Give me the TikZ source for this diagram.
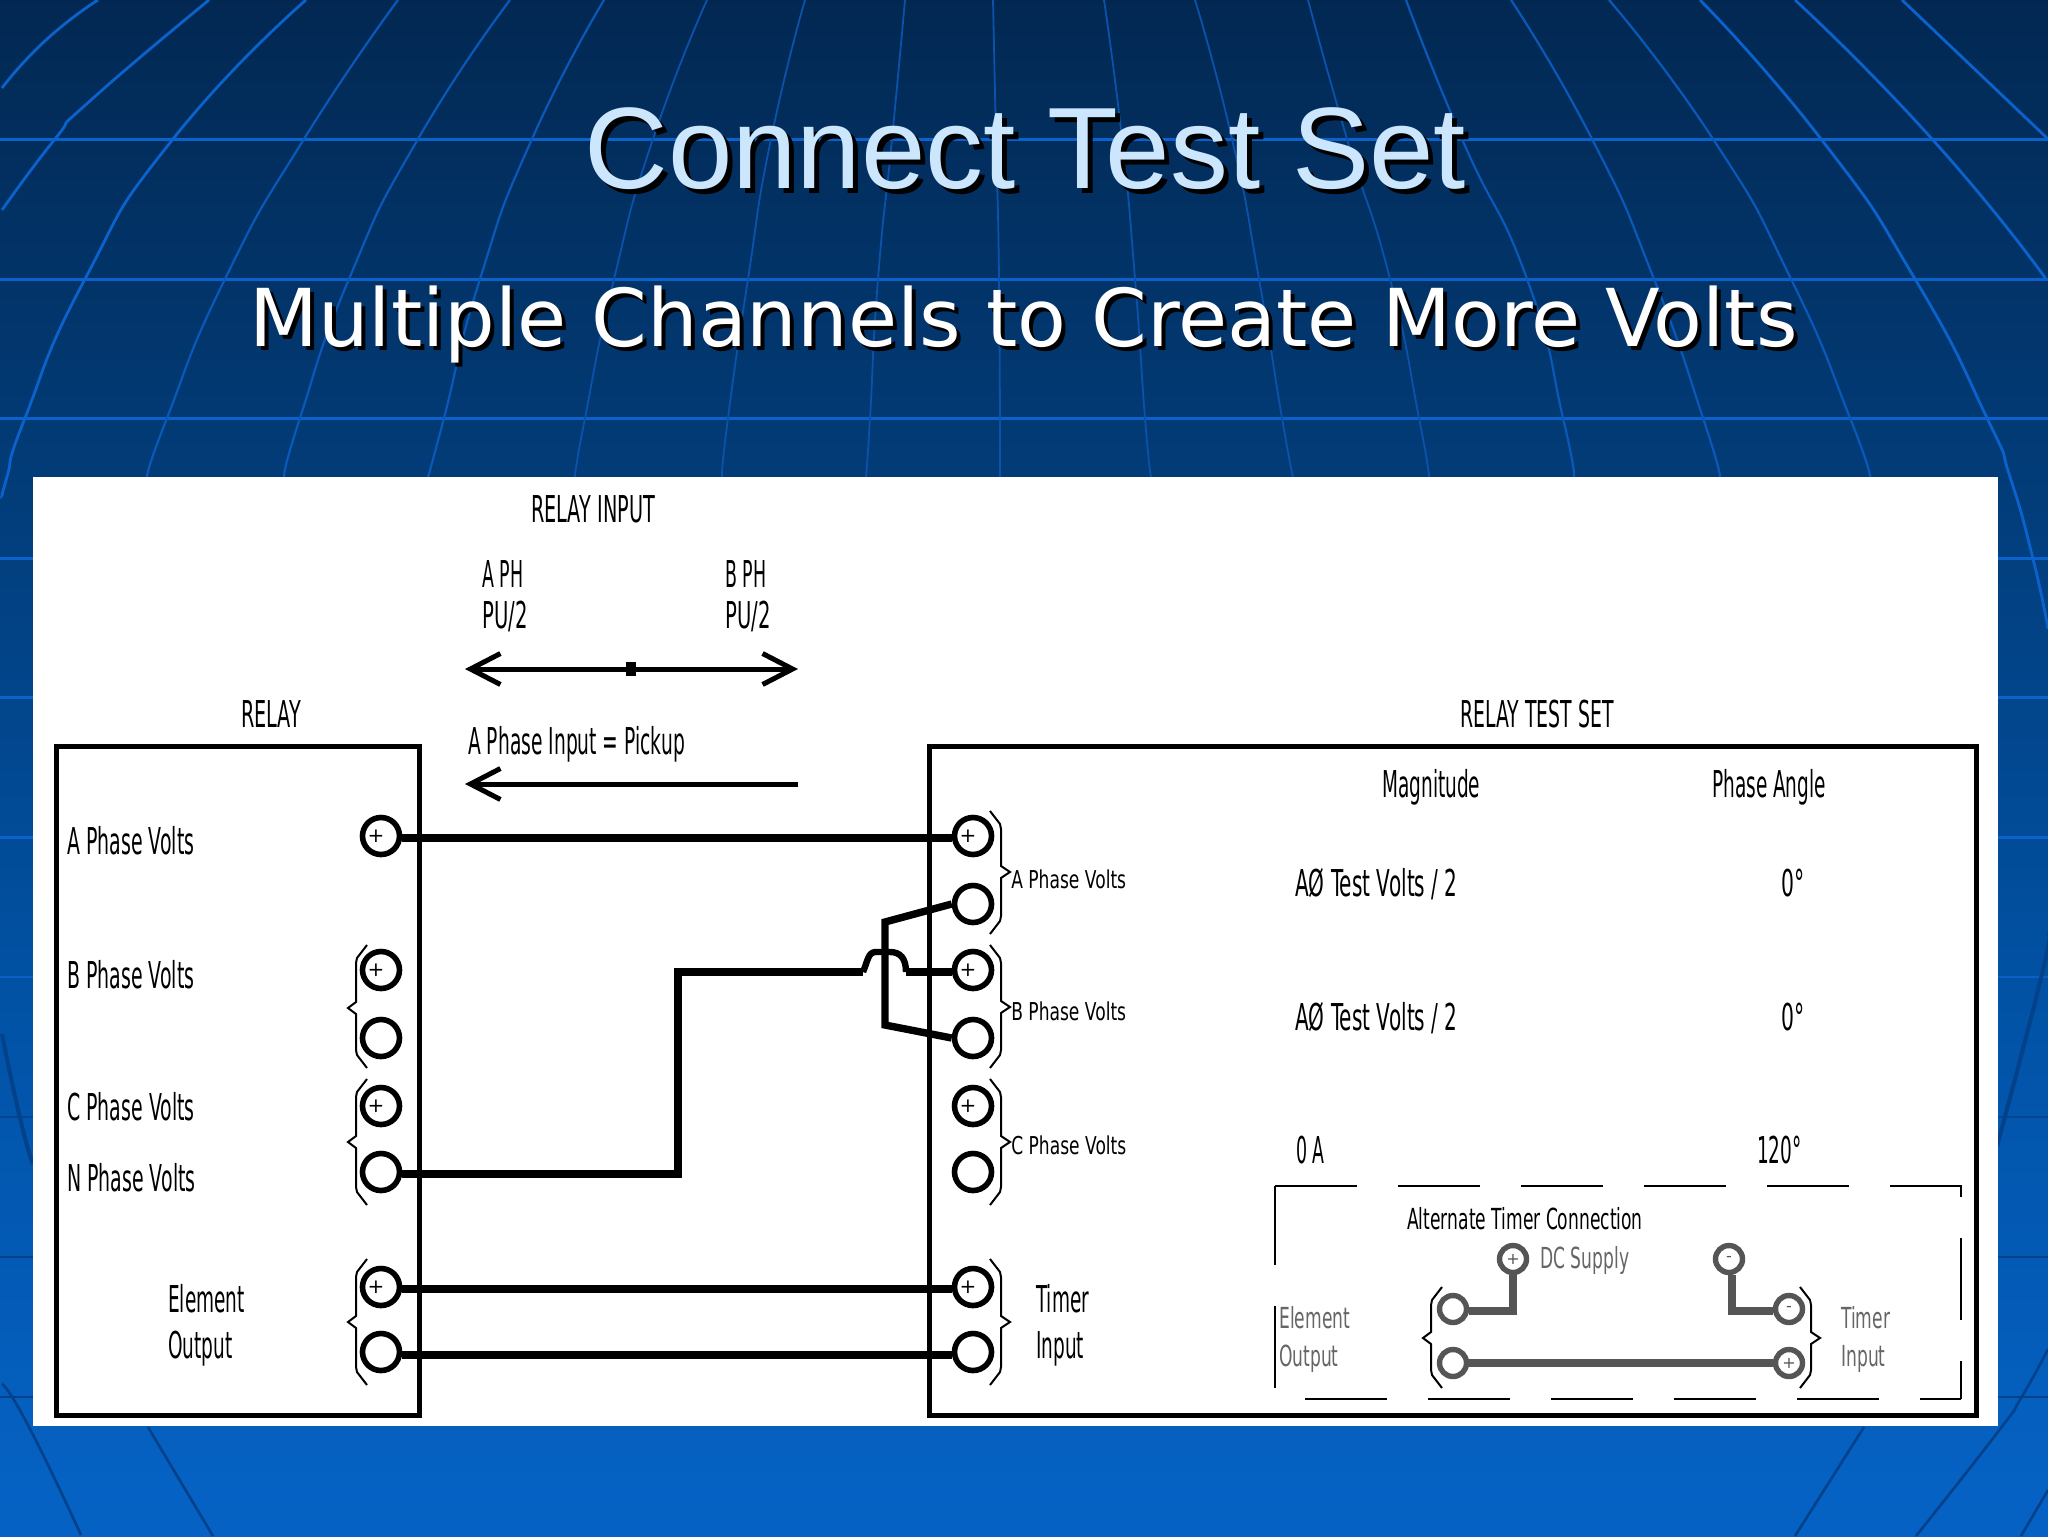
\documentclass[tikz,border=0pt]{standalone}
\usepackage{fontspec}
\usetikzlibrary{arrows.meta}
\setmainfont{DejaVu Sans}
\newfontfamily\titlefont{Liberation Sans}
\definecolor{gridbright}{HTML}{0B62CC}
\definecolor{gridmid}{HTML}{0A58B8}
\definecolor{griddim}{HTML}{0A52AC}
\definecolor{griddark}{HTML}{03418A}
\definecolor{titleblue}{HTML}{CBE6FD}
\definecolor{altgrey}{HTML}{555555}
\definecolor{alttext}{HTML}{666666}
\pgfdeclareverticalshading{slidebg}{100bp}{
  rgb(0bp)=(0.020,0.384,0.769);
  rgb(25bp)=(0.020,0.384,0.769);
  rgb(27bp)=(0.020,0.380,0.760);
  rgb(42.5bp)=(0.004,0.322,0.647);
  rgb(59.5bp)=(0.008,0.235,0.470);
  rgb(75bp)=(0.008,0.157,0.322);
  rgb(100bp)=(0.008,0.157,0.322)}
\newcommand{\bracel}[4]{\draw[bracest] (#1+11,#2) -- (#1+1,#2+13) -- (#1,#2+18) -- (#1,#3-6) -- (#1-8,#3) -- (#1,#3+6) -- (#1,#4-18) -- (#1+1,#4-13) -- (#1+11,#4);}
\newcommand{\bracer}[4]{\draw[bracest] (#1-11,#2) -- (#1-1,#2+13) -- (#1,#2+18) -- (#1,#3-6) -- (#1+9,#3) -- (#1,#3+6) -- (#1,#4-18) -- (#1-1,#4-13) -- (#1-11,#4);}
\newcommand{\shadowed}[4]{\rlap{\kern#3\raisebox{-#3}{\textcolor{#2}{#4}}}\textcolor{#1}{#4}}
\tikzset{
  x=0.5pt,y=-0.5pt,
  every plot/.style={smooth,tension=1},
  merid/.style={draw=gridbright,line width=1.4pt},
  meridthin/.style={draw=gridmid,line width=1.1pt},
  meridfaint/.style={draw=griddim,line width=0.9pt},
  meriddark/.style={draw=griddark,line width=1.3pt},
  meridheavy/.style={draw=griddark,line width=2pt},
  gridline/.style={line width=1.5pt},
  bracest/.style={draw=black,line width=1pt,miter limit=4},
  boxst/.style={draw=black,line width=2.5pt,fill=white,rectangle,inner sep=0pt,outer sep=0pt,anchor=north west},
  wire/.style={draw=black,line width=4.3pt},
  hop/.style={draw=black,line width=3.2pt},
  altwire/.style={draw=altgrey,line width=4pt},
  termbig/.style={circle,draw=black,fill=white,line width=2.8pt,minimum size=18.5pt,inner sep=0pt,font=\fontsize{10}{12}\selectfont},
  termsm/.style={circle,draw=altgrey,fill=white,line width=2.7pt,minimum size=13.5pt,inner sep=0pt,text=altgrey,font=\fontsize{8}{10}\selectfont},
  lbl/.style={anchor=base west,inner sep=0pt,transform shape,xscale=#1,font=\fontsize{18.5}{22}\selectfont},
  lbl/.default=0.5,
  lblsmall/.style={anchor=base west,inner sep=0pt,transform shape,xscale=0.695,font=\fontsize{12.3}{15}\selectfont},
  lblalt/.style={anchor=base west,inner sep=0pt,transform shape,xscale=0.59,font=\fontsize{14.5}{17}\selectfont},
  lblaltgrey/.style={lblalt,text=alttext},
  titlest/.style={anchor=base west,inner sep=0pt,font=\titlefont\fontsize{57.9}{60}\selectfont},
  subst/.style={anchor=base west,inner sep=0pt,font=\fontsize{39.9}{44}\selectfont},
}
\begin{document}
\begin{tikzpicture}
\useasboundingbox (0,0) rectangle (2048,1536);
\path[shading=slidebg] (0,0) rectangle (2048,1536);

% background grid: horizontals
\foreach \yy in {139,279,418,558,697,837} {\draw[gridline,draw=gridbright] (0,\yy) -- (2048,\yy);}
\draw[gridline,draw=gridbright!80!griddim,line width=1.2pt] (0,977) -- (2048,977);
\draw[gridline,draw=griddark!85!gridmid,line width=1.2pt] (0,1117) -- (2048,1117);
\draw[gridline,draw=griddark,line width=1.2pt] (0,1257) -- (2048,1257);
\draw[gridline,draw=griddark,line width=1.2pt] (0,1397) -- (2048,1397);

% background grid: meridians, left half
\draw[merid] plot coordinates {(98,0) (46,40) (2,88)};
\draw[merid] plot coordinates {(209,0) (91,100) (55,139) (2,210)};
\draw[merid] plot coordinates {(306,0) (173,139) (85,279) (25,418) (7,477) (2,496)};
\draw[meridthin] plot coordinates {(398,0) (304,139) (225,279) (167,418) (147,477)};
\draw[meridthin] plot coordinates {(510,0) (418,139) (349,279) (300,418) (284,477)};
\draw[meridthin] plot coordinates {(604,0) (532,139) (480,279) (444,418) (428,477)};
\draw[meridfaint] plot coordinates {(707,0) (653,139) (614,279) (585,418) (575,477)};
\draw[meridfaint] plot coordinates {(805,0) (771,139) (748,279) (728,418) (722,477)};
\draw[meridfaint] plot coordinates {(905,0) (892,139) (878,279) (870,418) (866,477)};
\draw[meridfaint] plot coordinates {(993,0) (996,139) (999,279) (1000,477)};
% right half
\draw[meridfaint] plot coordinates {(1104,0) (1122,139) (1135,279) (1145,418) (1151,477)};
\draw[meridfaint] plot coordinates {(1195,0) (1232,139) (1259,279) (1282,418) (1293,477)};
\draw[meridfaint] plot coordinates {(1308,0) (1347,139) (1390,279) (1419,418) (1429,477)};
\draw[meridthin] plot coordinates {(1406,0) (1462,139) (1527,279) (1563,418) (1574,477)};
\draw[meridthin] plot coordinates {(1511,0) (1592,139) (1654,279) (1703,418) (1720,477)};
\draw[meridthin] plot coordinates {(1609,0) (1713,139) (1791,279) (1850,418) (1870,477)};
\draw[merid] plot coordinates {(1700,0) (1821,139) (1915,279) (1987,418) (2010,477) (2033,559) (2048,629)};
\draw[merid] plot coordinates {(1795,0) (1932,139) (2046,279)};
\draw[merid] plot coordinates {(1902,0) (2048,139)};
% dark lower arcs
\draw[meridheavy] plot coordinates {(2,1034) (20,1118) (33,1164)};
\draw[meriddark] plot coordinates {(2,1384) (29,1427) (81,1535)};
\draw[meriddark] plot coordinates {(148,1427) (213,1536)};
\draw[meridheavy] plot coordinates {(2048,936) (2041,978) (1997,1146)};
\draw[meriddark] plot coordinates {(2048,1349) (2021,1398) (1997,1433) (1916,1536)};
\draw[meriddark] plot coordinates {(1864,1427) (1795,1536)};
\draw[meriddark] plot coordinates {(2048,1490) (2021,1536)};

% panel
\node[rectangle,fill=white,inner sep=0pt,outer sep=0pt,anchor=north west,minimum width=982.5pt,minimum height=474.5pt] (panel) at (33,477) {};

% titles
\node[titlest] (title) at (584,188) {\shadowed{titleblue}{black}{2.5pt}{Connect Test Set}};
\node[subst] (subtitle) at (249,346) {\shadowed{white}{black}{2pt}{Multiple Channels to Create More Volts}};

% boxes
\node[boxst,minimum width=181.5pt,minimum height=334.5pt] (relay) at (56,746) {};
\node[boxst,minimum width=523.5pt,minimum height=334.5pt] (testset) at (929,746) {};

% braces
\bracel{356}{945}{1008}{1068}
\bracel{356}{1079}{1142}{1205}
\bracel{356}{1259}{1322}{1385}
\bracer{1001}{811}{872}{934}
\bracer{1001}{945}{1007}{1068}
\bracer{1001}{1079}{1142}{1205}
\bracer{1001}{1259}{1322}{1385}

% relay terminals
\node[termbig] (ra) at (381,836) {+\kern5pt};
\node[termbig] (rb) at (381,970) {+\kern5pt};
\node[termbig] (rbn) at (381,1038) {};
\node[termbig] (rc) at (381,1106) {+\kern5pt};
\node[termbig] (rn) at (381,1172) {};
\node[termbig] (re) at (381,1287) {+\kern5pt};
\node[termbig] (ro) at (381,1352) {};
% test set terminals
\node[termbig] (ta) at (973,836) {+\kern5pt};
\node[termbig] (tan) at (973,904) {};
\node[termbig] (tb) at (973,970) {+\kern5pt};
\node[termbig] (tbn) at (973,1038) {};
\node[termbig] (tc) at (973,1106) {+\kern5pt};
\node[termbig] (tcn) at (973,1172) {};
\node[termbig] (te) at (973,1287) {+\kern5pt};
\node[termbig] (to) at (973,1352) {};

% wiring
\coordinate (riseb) at (678,1174);
\coordinate (riset) at (678,972);
\coordinate (hopl) at (863,972);
\coordinate (hopr) at (906,972);
\coordinate (jumpt) at (885,922);
\coordinate (jumpb) at (885,1025);
\draw[wire] ([yshift=-1pt]ra.east) -- ([yshift=-1pt]ta.west);
\draw[wire] ([yshift=-1pt]rn.east) -- (riseb) -- (riset) -- (hopl);
\draw[hop] (hopl) .. controls (868,960) and (868,953) .. (875,952) -- (890,952) .. controls (900,952) and (906,958) .. (hopr);
\draw[wire,line width=3.6pt] (hopr) -- ([yshift=-1pt]tb.west);
\draw[wire,line width=3.7pt,line join=miter] (tan.west) -- (jumpt) -- (jumpb) -- (tbn.west);
\draw[wire] ([yshift=-1pt]re.east) -- ([yshift=-1pt]te.west);
\draw[wire] ([yshift=-1.5pt]ro.east) -- ([yshift=-1.5pt]to.west);

% relay input arrows
\coordinate (dblL) at (465,669);
\coordinate (dblR) at (798,669);
\coordinate (pickR) at (798,784);
\coordinate (pickL) at (465,784);
\draw[line width=2.5pt,{Straight Barb[length=15pt,width=15.5pt,line width=2.5pt]}-{Straight Barb[length=15pt,width=15.5pt,line width=2.5pt]}] (dblL) -- (dblR);
\node[rectangle,fill=black,inner sep=0pt,minimum width=5pt,minimum height=7pt] (dblmid) at (631,669) {};
\draw[line width=2.5pt,-{Straight Barb[length=15pt,width=15.5pt,line width=2.5pt]}] (pickR) -- (pickL);

% labels
\node[lbl=0.52] (lrelayin) at (531,522) {RELAY INPUT};
\node[lbl=0.47] (lah) at (482,587) {A PH};
\node[lbl=0.53] (lau) at (482,628) {PU/2};
\node[lbl=0.47] (lbh) at (725,587) {B PH};
\node[lbl=0.53] (lbu) at (725,628) {PU/2};
\node[lbl=0.52] (lrelay) at (241,727) {RELAY};
\node[lbl=0.505] (lpick) at (468,754) {A Phase Input = Pickup};
\node[lbl=0.51] (lrtest) at (1460,727) {RELAY TEST SET};
\node[lbl=0.512] (lra) at (67,854) {A Phase Volts};
\node[lbl=0.512] (lrb) at (67,988) {B Phase Volts};
\node[lbl=0.512] (lrc) at (67,1120) {C Phase Volts};
\node[lbl=0.512] (lrn) at (67,1191) {N Phase Volts};
\node[lbl] (lrel) at (168,1312) {Element};
\node[lbl] (lrou) at (168,1358) {Output};
\node[lblsmall] (lta) at (1011,888) {A Phase Volts};
\node[lblsmall] (ltb) at (1011,1020) {B Phase Volts};
\node[lblsmall] (ltc) at (1011,1154) {C Phase Volts};
\node[lbl] (ltim) at (1036,1312) {Timer};
\node[lbl] (linp) at (1036,1358) {Input};
\node[lbl] (lmag) at (1382,797) {Magnitude};
\node[lbl] (lang) at (1712,797) {Phase Angle};
\node[lbl=0.542] (lv1) at (1295,896) {AØ Test Volts / 2};
\node[lbl=0.542] (lv2) at (1295,1030) {AØ Test Volts / 2};
\node[lbl=0.55] (ld1) at (1781,896) {0°};
\node[lbl=0.55] (ld2) at (1781,1030) {0°};
\node[lbl=0.47] (lza) at (1296,1163) {0 A};
\node[lbl] (ld3) at (1757,1163) {120°};

% alternate timer connection
\coordinate (nw) at (1275,1186);
\coordinate (ne) at (1961,1186);
\coordinate (se) at (1961,1399);
\coordinate (sw) at (1275,1399);
\draw[line width=1.25pt,dash pattern=on 41pt off 20.5pt] (nw) -- (ne) -- (se);
\draw[line width=1.25pt,dash pattern=on 41pt off 20.5pt,dash phase=20.5pt] (se) -- (sw) -- (nw);
\bracel{1431}{1287}{1338}{1388}
\bracer{1811}{1287}{1338}{1388}
\node[termsm] (dcp) at (1513,1259) {+};
\node[termsm] (dcn) at (1729,1259) {-};
\node[termsm] (aep) at (1453,1309) {};
\node[termsm] (aen) at (1453,1363) {};
\node[termsm] (atn) at (1789,1309) {-};
\node[termsm] (atp) at (1789,1363) {+};
\coordinate (cl) at (1513,1311);
\coordinate (cr) at (1732,1311);
\draw[altwire] (dcp.south) -- (cl) -- (aep.east |- cl);
\draw[altwire] (dcn.south -| cr) -- (cr) -- (atn.west |- cr);
\draw[altwire] (aen.east) -- (atp.west);
\node[lblalt] (lalt) at (1407,1229) {Alternate Timer Connection};
\node[lblaltgrey] (ldc) at (1540,1268) {DC Supply};
\node[lblaltgrey] (lael) at (1279,1328) {Element};
\node[lblaltgrey] (laou) at (1279,1366) {Output};
\node[lblaltgrey] (latm) at (1841,1328) {Timer};
\node[lblaltgrey] (lain) at (1841,1366) {Input};
\end{tikzpicture}
\end{document}
